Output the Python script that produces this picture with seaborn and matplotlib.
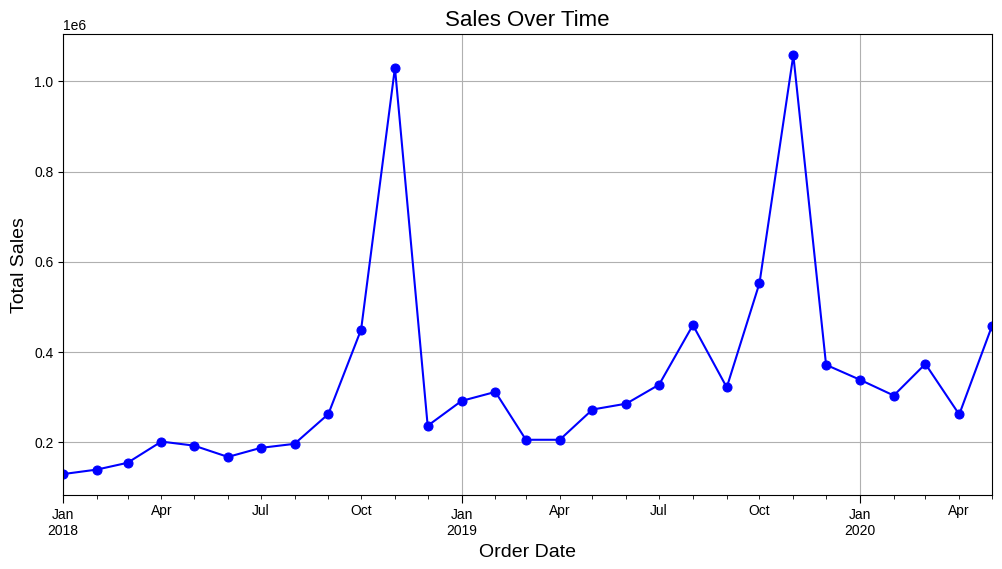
import matplotlib
matplotlib.use("Agg")
import matplotlib.pyplot as plt
import matplotlib.dates as mdates
import seaborn as sns
import pandas as pd

months = pd.date_range("2018-01-01", "2020-05-01", freq="MS")
sales = [0.130, 0.140, 0.155, 0.202, 0.193, 0.168, 0.188, 0.197, 0.263, 0.450,
         1.030, 0.237, 0.292, 0.312, 0.206, 0.206, 0.273, 0.286, 0.328, 0.460,
         0.322, 0.553, 1.058, 0.372, 0.339, 0.304, 0.374, 0.262, 0.458]
sales = [v * 1e6 for v in sales]
df = pd.DataFrame({"Order Date": months, "Total Sales": sales})

plt.rcParams['font.family'] = ['Liberation Sans', 'DejaVu Sans']
fig, ax = plt.subplots(figsize=(10.02, 5.69), dpi=100)
sns.lineplot(data=df, x="Order Date", y="Total Sales", color="blue", marker="o",
             markersize=6.5, markeredgecolor="blue", ax=ax)
ax.set_xlim(months[0], months[-1])
ax.xaxis.set_major_locator(mdates.YearLocator())
ax.xaxis.set_major_formatter(mdates.DateFormatter("Jan\n%Y"))
ax.xaxis.set_minor_locator(mdates.MonthLocator())
def minor_fmt(x, pos):
    d = mdates.num2date(x)
    return d.strftime("%b") if d.month in (4, 7, 10) else ""
ax.xaxis.set_minor_formatter(plt.FuncFormatter(minor_fmt))
ax.tick_params(axis="x", which="major", length=6, labelsize=10)
ax.tick_params(axis="x", which="minor", length=3, labelsize=10)
ax.tick_params(axis="y", labelsize=10)
ax.grid(True, which="major")
ax.set_title("Sales Over Time", fontsize=16)
ax.set_xlabel("Order Date", fontsize=14)
ax.set_ylabel("Total Sales", fontsize=14)
fig.subplots_adjust(left=0.063, right=0.99, top=0.94, bottom=0.13)
fig.savefig("out.png")
